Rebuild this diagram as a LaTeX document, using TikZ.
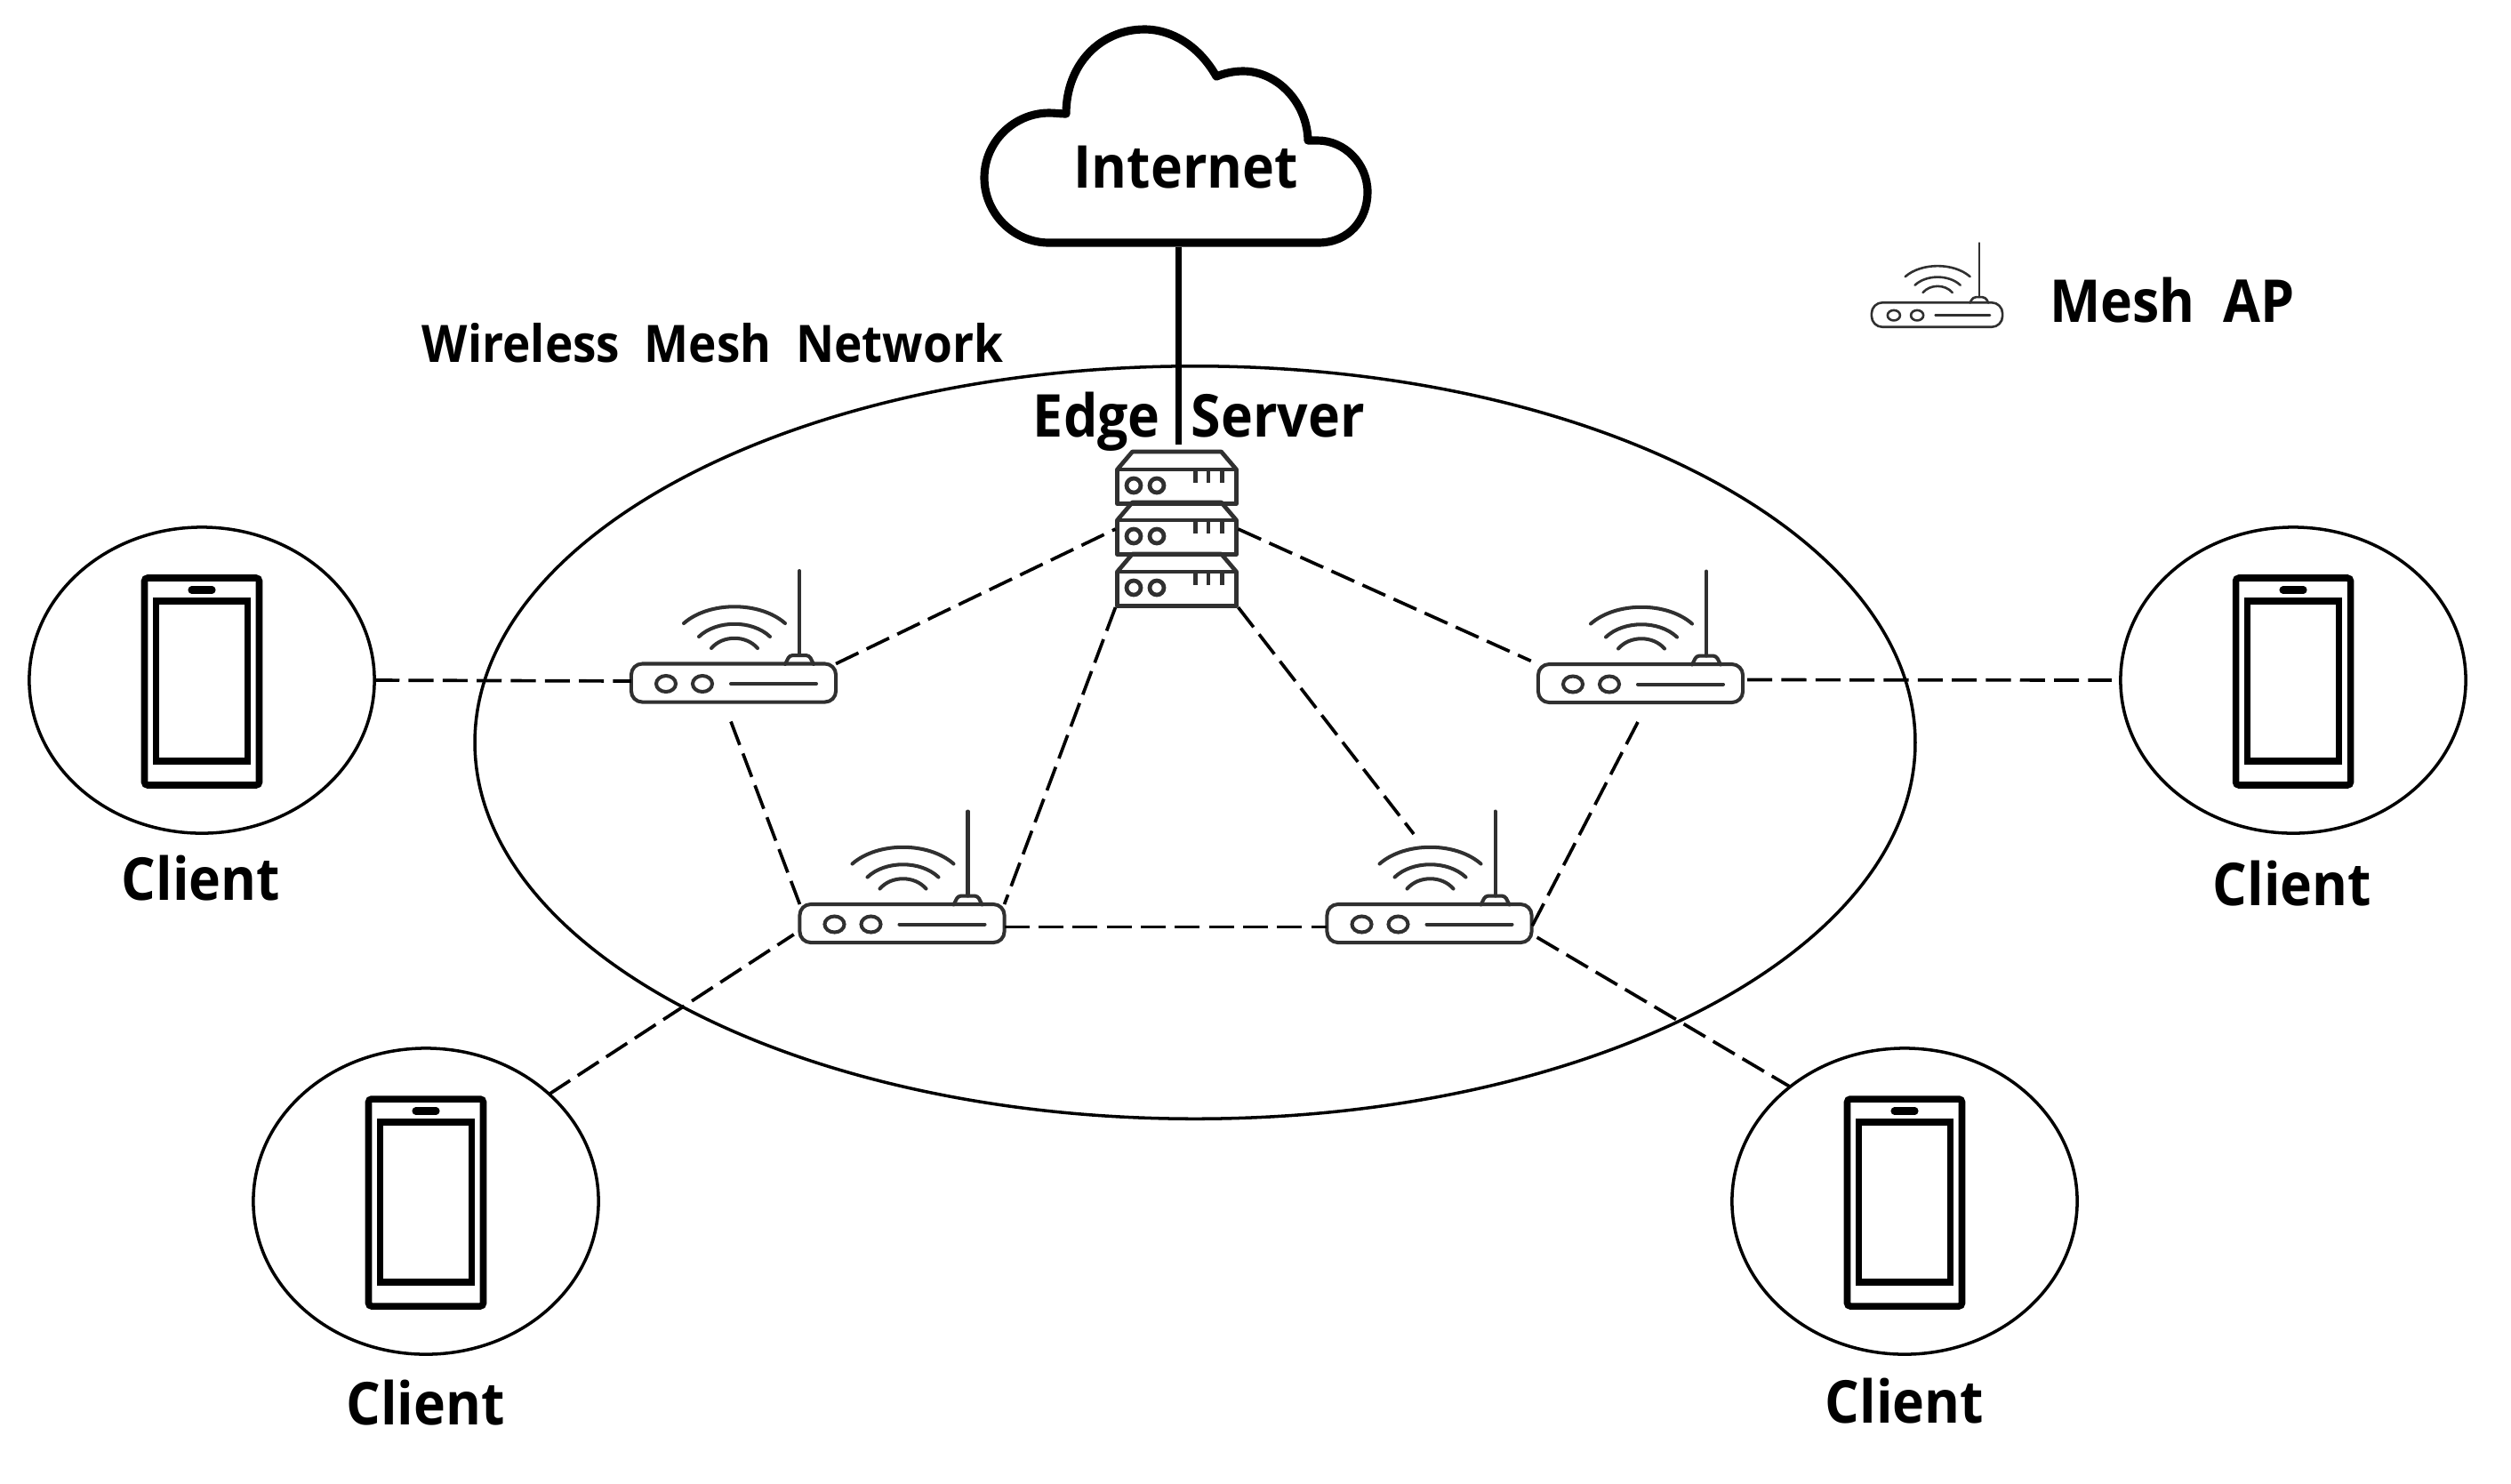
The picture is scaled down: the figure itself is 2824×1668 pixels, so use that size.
\documentclass[tikz,border=0pt]{standalone}
\usepackage{fontspec}
\setmainfont[FakeStretch=0.915]{Open Sans}
\usetikzlibrary{shapes.geometric}
\definecolor{icongray}{HTML}{303030}
\tikzset{
  bigfont/.style={font=\fontsize{18.9}{20}\selectfont\bfseries,anchor=base,inner sep=0pt},
  smallfont/.style={font=\fontsize{16.5}{18}\selectfont\bfseries,anchor=base,inner sep=0pt},
  clientring/.style={ellipse,draw,line width=1pt,inner sep=0pt,outer sep=0pt,minimum width=3.88cm,minimum height=3.44cm},
  meshring/.style={ellipse,draw,line width=1pt,inner sep=0pt,outer sep=0pt,minimum width=16.19cm,minimum height=8.46cm},
  apbody/.style={rectangle,draw=icongray,rounded corners=3.5pt,inner sep=0pt,outer sep=0pt},
  srvbox/.style={rectangle,inner sep=0pt,outer sep=0pt,minimum width=1.38cm,minimum height=1.76cm},
  srvline/.style={draw=icongray,line width=1.35pt},
  phoneline/.style={draw=black,line width=2.15pt},
  dashlink/.style={line width=1.05pt,dash pattern=on 8pt off 2.9pt},
  uplink/.style={line width=2.15pt},
}
% mesh access point: name, position, scale
\newcommand{\meshap}[3]{
  \begin{scope}[shift={(#2)},scale=#3,icongray,line width={1.15pt*#3},line cap=round]
    \node[apbody,line width={1.15pt*#3},minimum width={2.3cm*#3},minimum height={0.43cm*#3}] (#1) at (0,0) {};
    \coordinate (#1low) at (-3,43.5);
    \coordinate (#1up) at (-17.5,-100.5);
    \draw (74,-126) -- (74,-31);
    \draw[rounded corners=1pt] (58,-21) -- (63,-31) -- (85,-31) -- (90,-21);
    \foreach \r/\yb/\yc in {57/-67/-92,40/-52/-71,26/-39/-54}
      \draw (-\r+1,\yb) .. controls (-\r*0.5+1,\yc) and (\r*0.5+1,\yc) .. (\r+1,\yb);
    \foreach \x in {-76,-35}
      \draw (\x,1) ellipse [x radius=11,y radius=9];
    \draw (-3,1) -- (93,1);
  \end{scope}
}
% client: name, position
\newcommand{\clientphone}[2]{
  \node[clientring] (#1) at (#2) {};
  \begin{scope}[shift={(#2)},yshift=-0.015cm]
    \draw[phoneline,rounded corners=1pt] (-64.5,-116.5) rectangle (64.5,116.5);
    \draw[phoneline] (-51.5,-90.5) rectangle (51.5,89.5);
    \draw[line width=2.3pt,line cap=round] (-11.5,-103) -- (11.5,-103);
  \end{scope}
}
\begin{document}
\begin{tikzpicture}[x=0.01cm,y=-0.01cm]
  \useasboundingbox (0,0) rectangle (2824,1668);
  % cloud
  \draw[line width=2.6pt,line join=round] (1180,273) -- (1482,273)
    .. controls (1518,273) and (1538,246) .. (1538,216)
    .. controls (1538,184) and (1512,158) .. (1482,158) -- (1471,158)
    .. controls (1470,115) and (1436,80) .. (1398,80)
    .. controls (1388,80) and (1378,82) .. (1368,86)
    .. controls (1350,54) and (1320,33) .. (1287,33)
    .. controls (1238,33) and (1199,72) .. (1199,128)
    .. controls (1193,128) and (1186,127) .. (1180,127)
    .. controls (1140,127) and (1107,160) .. (1107,200)
    .. controls (1107,240) and (1140,273) .. (1180,273) -- cycle;
  \node[bigfont] (inet) at (1334,211) {Internet};
  \coordinate (cloudbot) at (1325.5,278);
  %
  \node[meshring] (wmn) at (1344,835) {};
  \node[smallfont] (wmntxt) at (801.5,407) {Wireless\ \ Mesh\ \ Network};
  \node[bigfont] (edgetxt) at (1348.5,491) {Edge\ \ \kern1pt Server};
  %
  \node[srvbox] (srv) at (1323.5,595) {};
  \foreach \ytop in {528,585,643} {
    \begin{scope}[shift={(1323.5,\ytop)}]
      \draw[srvline,line join=round] (-67,0) rectangle (67,38.5);
      \draw[srvline,line join=round] (-67,0) -- (-50,-20) -- (50,-20) -- (67,0);
      \foreach \x in {-48.5,-22.5}
        \draw[srvline] (\x,18) circle [radius=8];
      \foreach \x in {21,35.5,51}
        \draw[srvline] (\x,2) -- (\x,15);
    \end{scope}
  }
  %
  \meshap{ap1}{825,768}{1}
  \meshap{ap2}{1014.5,1038.5}{1}
  \meshap{ap3}{1607.5,1038.5}{1}
  \meshap{ap4}{1845,768.5}{1}
  \meshap{aplegend}{2178.5,354}{0.64}
  \node[bigfont] (aptxt) at (2443,362.7) {Mesh\ \ AP};
  %
  \clientphone{cl1}{227,765}
  \clientphone{cl2}{2579,765}
  \clientphone{cl3}{479,1351}
  \clientphone{cl4}{2142,1351}
  \node[bigfont] (cl1txt) at (226,1012.7) {Client};
  \node[bigfont] (cl2txt) at (2578,1018) {Client};
  \node[bigfont] (cl3txt) at (478.5,1602) {Client};
  \node[bigfont] (cl4txt) at (2142,1600) {Client};
  %
  \draw[uplink,shorten >=0.07cm] (cloudbot) -- (cloudbot |- srv.north);
  %
  \draw[dashlink] (ap1.north east) -- (srv.west);
  \draw[dashlink,shorten >=0.09cm] (srv.east) -- (ap4.north west);
  \draw[dashlink] (srv.south west) -- (ap2.north east);
  \draw[dashlink] (srv.south east) -- (ap3up);
  \draw[dashlink] (ap1low) -- (ap2.north west);
  \draw[dashlink] (ap4low) -- (ap3.-2);
  \draw[dashlink] (ap2.-2) -- (ap3.182);
  \draw[dashlink] (cl1.east) -- (ap1.179);
  \draw[dashlink,shorten <=0.05cm,shorten >=0.1cm] (ap4.2) -- (cl2.west);
  \draw[dashlink,shorten >=0.08cm] (cl3.41.5) -- (ap2.184);
  \draw[dashlink,shorten <=0.07cm] (ap3.-6) -- (cl4.135);
\end{tikzpicture}
\end{document}
